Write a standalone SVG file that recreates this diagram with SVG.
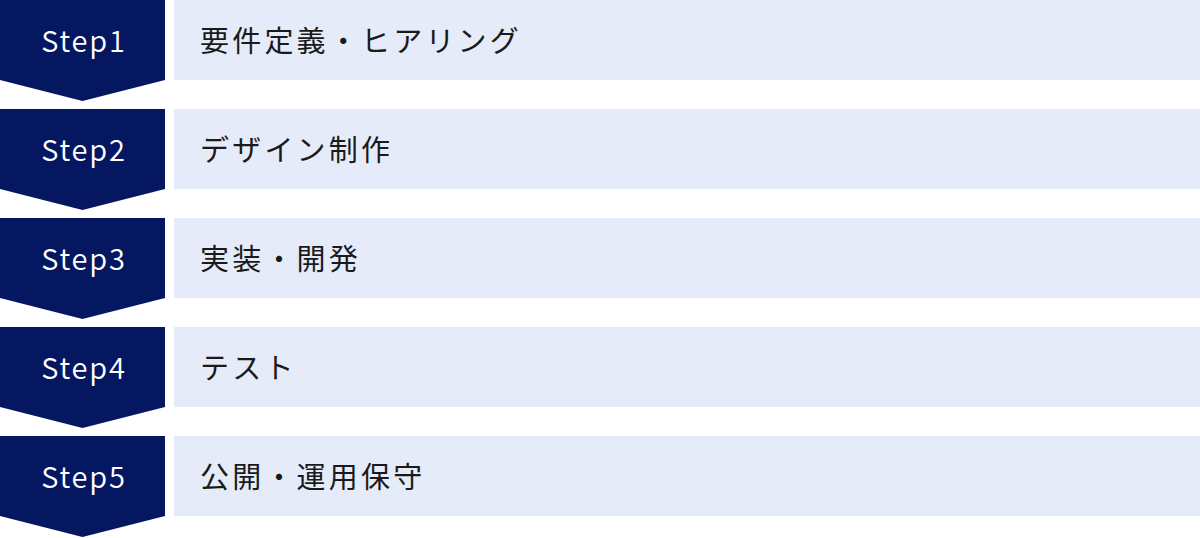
<svg xmlns="http://www.w3.org/2000/svg" width="1200" height="538" viewBox="0 0 1200 538">
<style>
.chev{fill:#051761}
.bar{fill:#E5EBF9}
.step{font-family:"Noto Sans CJK JP","Noto Sans",sans-serif;font-size:29px;font-weight:350;fill:#ffffff;text-anchor:middle;letter-spacing:1.8px}
.lbl{font-family:"Noto Sans CJK JP","Noto Sans",sans-serif;font-size:29px;fill:#1a1a1a;letter-spacing:3.2px}
</style>
<rect width="1200" height="538" fill="#ffffff"/>
<g id="step1">
<polygon class="chev" points="0,0 165,0 165,80 82.5,101 0,80"/>
<rect class="bar" x="174" y="0" width="1026" height="80"/>
<text class="step" x="84" y="52">Step1</text>
<text class="lbl" x="200" y="52">要件定義・ヒアリング</text>
</g>
<g id="step2">
<polygon class="chev" points="0,109 165,109 165,189 82.5,210 0,189"/>
<rect class="bar" x="174" y="109" width="1026" height="80"/>
<text class="step" x="84" y="161">Step2</text>
<text class="lbl" x="200" y="161">デザイン制作</text>
</g>
<g id="step3">
<polygon class="chev" points="0,218 165,218 165,298 82.5,319 0,298"/>
<rect class="bar" x="174" y="218" width="1026" height="80"/>
<text class="step" x="84" y="270">Step3</text>
<text class="lbl" x="200" y="270">実装・開発</text>
</g>
<g id="step4">
<polygon class="chev" points="0,327 165,327 165,407 82.5,428 0,407"/>
<rect class="bar" x="174" y="327" width="1026" height="80"/>
<text class="step" x="84" y="379">Step4</text>
<text class="lbl" x="200" y="379">テスト</text>
</g>
<g id="step5">
<polygon class="chev" points="0,436 165,436 165,516 82.5,537 0,516"/>
<rect class="bar" x="174" y="436" width="1026" height="80"/>
<text class="step" x="84" y="488">Step5</text>
<text class="lbl" x="200" y="488">公開・運用保守</text>
</g>
<g id="connectors"></g>
</svg>
